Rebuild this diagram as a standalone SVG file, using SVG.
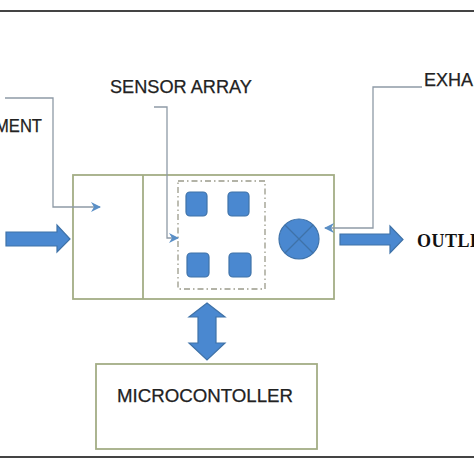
<svg xmlns="http://www.w3.org/2000/svg" width="474" height="474" viewBox="0 0 474 474">
<defs>
<style>
.box{fill:#fff;stroke:#a3ad85;stroke-width:1.8}
.blue{fill:#4a88d0;stroke:#3f72a8;stroke-width:1.2}
.lead{fill:none;stroke:#8e9aa6;stroke-width:1.3}
.lbl{font-family:"Liberation Sans",Arial,sans-serif;font-size:18px;fill:#222;stroke:#222;stroke-width:0.25}
.rule{stroke:#444;stroke-width:2.2}
</style>
<marker id="ah" markerWidth="10" markerHeight="10" refX="9" refY="5" orient="auto" markerUnits="userSpaceOnUse">
<path d="M0,0 L10,5 L0,10 L3,5 Z" fill="#5a8fc6"/>
</marker>
</defs>
<rect width="474" height="474" fill="#fff"/>
<line class="rule" x1="0" y1="11" x2="474" y2="11"/>
<line class="rule" x1="0" y1="457" x2="474" y2="457"/>

<g id="chamber">
<rect class="box" x="73" y="175" width="261" height="124"/>
<line class="box" x1="143" y1="175" x2="143" y2="299"/>
</g>
<g id="sensor-array">
<rect x="178" y="181" width="87" height="108" fill="none" stroke="#9a9a8a" stroke-width="1.3" stroke-dasharray="6,3,1.5,3"/>
<rect class="blue" x="186" y="192" width="21" height="24" rx="4"/>
<rect class="blue" x="228" y="192" width="21" height="24" rx="4"/>
<rect class="blue" x="187" y="253" width="22" height="24" rx="4"/>
<rect class="blue" x="229" y="253" width="22" height="24" rx="4"/>
</g>
<g id="fan">
<circle class="blue" cx="299" cy="239" r="20"/>
<line x1="285" y1="225" x2="313" y2="253" stroke="#3f72a8" stroke-width="1.2"/>
<line x1="313" y1="225" x2="285" y2="253" stroke="#3f72a8" stroke-width="1.2"/>
</g>
<g id="microcontroller">
<rect class="box" x="96" y="364" width="221" height="85"/>
<text class="lbl" x="117" y="402" font-size="17.5" textLength="176" lengthAdjust="spacingAndGlyphs">MICROCONTOLLER</text>
</g>
<g id="labels">
<text class="lbl" x="42" y="132" text-anchor="end" textLength="47" lengthAdjust="spacingAndGlyphs">MENT</text>
<text class="lbl" x="110" y="93" textLength="142" lengthAdjust="spacingAndGlyphs">SENSOR ARRAY</text>
<text class="lbl" x="424" y="86">EXHA</text>
<text x="417" y="247" font-family="'Liberation Serif','Times New Roman',serif" font-weight="bold" font-size="18" letter-spacing="0.5" fill="#111">OUTLET</text>
</g>
<g id="connectors">
<path class="lead" d="M5,98 H53 V207 H100" marker-end="url(#ah)"/>
<path class="lead" d="M154,107 H167 V238 H178" marker-end="url(#ah)"/>
<path class="lead" d="M422,87 H373 V228 H325" marker-end="url(#ah)"/>
<path class="blue" d="M6,232 H57 V225 L70,239 L57,252 V246 H6 Z"/>
<path class="blue" d="M340,234 H390 V226 L403,239.5 L390,253 V245 H340 Z"/>
<path class="blue" d="M207,303 L225,317 H216 V343 H225 L207,360 L189,343 H198 V317 H189 Z"/>
</g>
</svg>
